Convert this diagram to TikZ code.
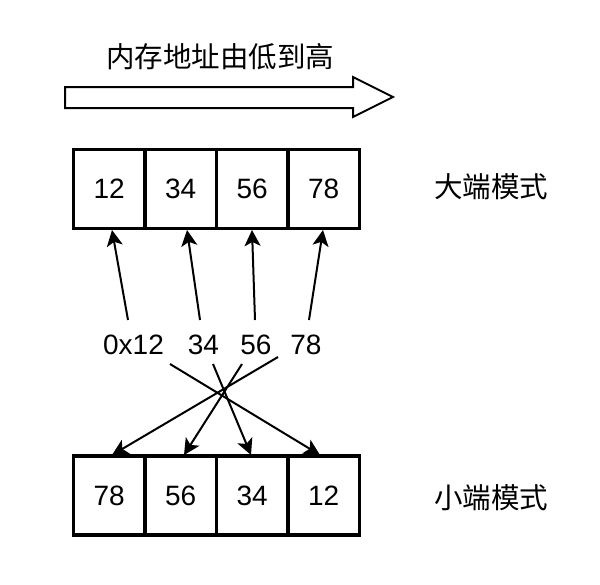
\documentclass[tikz,border=0pt]{standalone}
\usepackage{fontspec}
\setmainfont{Liberation Sans}
\newfontfamily\cjk{Noto Sans CJK SC}
\usetikzlibrary{arrows.meta}
\begin{document}
\begin{tikzpicture}[x=1pt,y=-1pt,
  cell/.style={draw, line width=3.5pt, minimum width=71.5pt, minimum height=79pt, inner sep=0pt, font=\fontsize{28}{32}\selectfont},
  lab/.style={inner sep=0pt, font=\fontsize{28}{32}\selectfont},
  cjklab/.style={inner sep=0pt, font=\cjk\fontsize{28.5}{32}\selectfont},
  arr/.style={line width=2pt, -{Stealth[length=16pt,width=16pt,inset=4pt]}}]
\useasboundingbox (0,0) rectangle (600,584);
% title and hollow arrow
\node[cjklab] (title) at (220,57) {内存地址由低到高};
\draw[line width=2pt, line join=miter] (65,87) -- (353,87) -- (353,77) -- (393,97) -- (353,117) -- (353,108) -- (65,108) -- cycle;
% big endian
\node[cell] (t1) at (109.25,189) {12};
\node[cell] (t2) at (180.75,189) {34};
\node[cell] (t3) at (252.25,189) {56};
\node[cell] (t4) at (323.75,189) {78};
\node[cjklab] (big) at (491,187) {大端模式};
% little endian
\node[cell] (b1) at (109.25,495.5) {78};
\node[cell] (b2) at (180.75,495.5) {56};
\node[cell] (b3) at (252.25,495.5) {34};
\node[cell] (b4) at (323.75,495.5) {12};
\node[cjklab] (little) at (491,498) {小端模式};
% value labels
\node[lab] (l1) at (133.5,345) {0x12};
\node[lab] (l2) at (203.5,345) {34};
\node[lab] (l3) at (256,345) {56};
\node[lab] (l4) at (306,345) {78};
% arrow end points
\coordinate (u1s) at (128,320); \coordinate (u1e) at (112,230);
\coordinate (u2s) at (200,320); \coordinate (u2e) at (187,230);
\coordinate (u3s) at (255,320); \coordinate (u3e) at (252,230);
\coordinate (u4s) at (309,320); \coordinate (u4e) at (323,230);
\coordinate (d1s) at (170,364); \coordinate (d1e) at (320,455);
\coordinate (d2s) at (213,364); \coordinate (d2e) at (251,455);
\coordinate (d3s) at (242,364); \coordinate (d3e) at (184,455);
\coordinate (d4s) at (278,357); \coordinate (d4e) at (112,455);
\draw[arr] (u1s) -- (u1e);
\draw[arr] (u2s) -- (u2e);
\draw[arr] (u3s) -- (u3e);
\draw[arr] (u4s) -- (u4e);
\draw[arr] (d1s) -- (d1e);
\draw[arr] (d2s) -- (d2e);
\draw[arr] (d3s) -- (d3e);
\draw[arr] (d4s) -- (d4e);
\end{tikzpicture}
\end{document}
